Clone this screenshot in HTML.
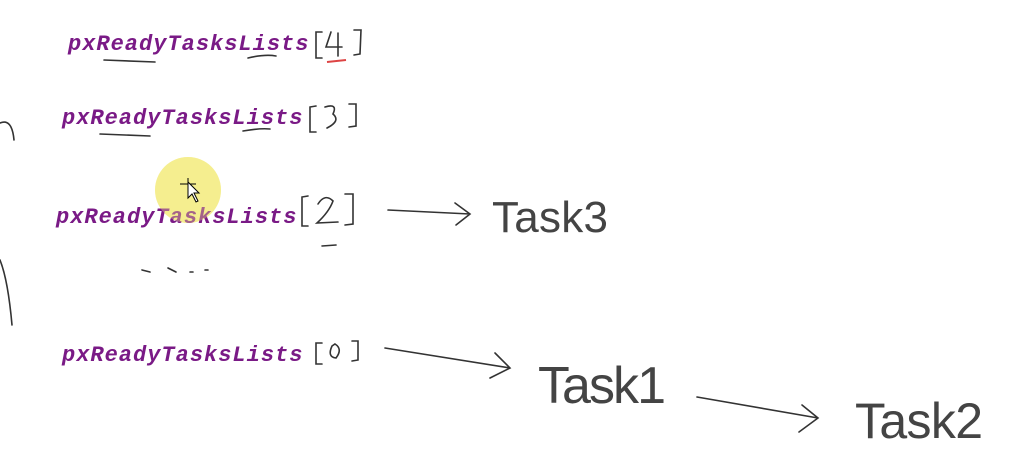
<!DOCTYPE html>
<html><head><meta charset="utf-8"><style>
html,body{margin:0;padding:0;background:#fff;width:1013px;height:473px;overflow:hidden}
svg{display:block}
.c{font-family:"Liberation Mono",monospace;font-weight:bold;font-style:italic;fill:#7a1a86;font-size:22px;letter-spacing:1px}
.h{font-family:"Liberation Sans",sans-serif;fill:#444;font-weight:normal}
</style></head><body>
<svg width="1013" height="473" viewBox="0 0 1013 473">
<circle cx="188" cy="190" r="33" fill="#f5ef90"/>
<text class="c" x="68" y="50">pxReadyTasksLists</text>
<text class="c" x="62" y="124">pxReadyTasksLists</text>
<text class="c" x="56" y="223">pxReadyTasksLists</text>
<text class="c" x="62" y="361">pxReadyTasksLists</text>
<circle cx="188" cy="190" r="33" fill="#f5ef90" opacity="0.35"/>
<g stroke="#333" stroke-width="1.6" fill="none" stroke-linecap="round">
<path d="M322 32 L316 32 L316 58 L322 58"/><path d="M354 30 L361 30 L360 54 L354 55"/>
<path d="M331 32 L326 47 L342 47 M338 33 L338 56"/>
<path d="M316 106 L310 107 L310 132 L316 132"/><path d="M349 104 L356 104 L356 126 L349 127"/>
<path d="M325 107 Q338 103 333 114 Q341 121 327 128"/>
<path d="M308 196 L302 197 L302 226 L308 226"/><path d="M345 194 L353 194 L353 224 L345 225"/>
<path d="M318 204 Q325 193 333 201 Q329 212 317 223 L338 222"/>
<path d="M322 343 L316 343 L316 364 L322 364"/><path d="M352 341 L358 341 L358 360 L352 361"/>
<path d="M332 346 Q327 357 336 358 Q343 349 335 344 Z"/>
<path d="M388 210 L470 214 M455 203 L470 214 L456 225"/>
<path d="M385 348 L510 368 M495 353 L510 368 L490 378"/>
<path d="M697 397 L818 418 M802 405 L818 418 L799 432"/>
<path d="M104 60 L155 62"/><path d="M100 134 L150 136"/><path d="M248 58 Q265 54 276 56"/><path d="M243 131 Q260 128 270 129"/>
<path d="M322 246 L336 245"/>
<path d="M142 270 L150 272 M168 268 L176 272 M190 272 L193 272 M205 270 L208 270"/>
<path d="M0 123 Q12 118 14 140"/><path d="M0 260 Q8 280 12 325"/>
</g>
<path d="M327 62 L346 60" stroke="#d44" stroke-width="2"/>
<path d="M188 178 V198 M180 184 H196" stroke="#000" stroke-width="1"/>
<path d="M188 182 L188 198 L192 194 L196 202 L198 201 L194 193 L199 193 Z" fill="#fff" stroke="#000" stroke-width="1"/>
<text class="h" x="492" y="232" font-size="44" textLength="116">Task3</text>
<text class="h" x="538" y="403" font-size="52" textLength="128">Task1</text>
<text class="h" x="855" y="438" font-size="50" textLength="128">Task2</text>
</svg>
</body></html>
